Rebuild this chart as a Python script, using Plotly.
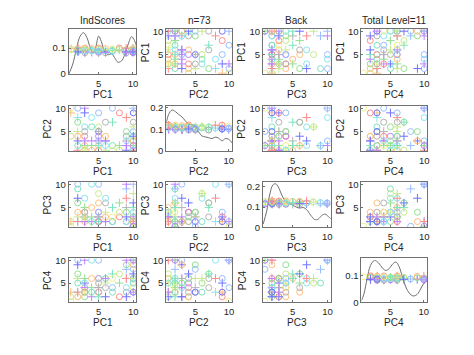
import plotly.graph_objects as go
from plotly.subplots import make_subplots

var_names = ["PC1", "PC2", "PC3", "PC4"]
col_titles = ["IndScores", "n=73", "Back", "Total Level=11"]

pc1 = [1,1,1,2,2,2,2,2,2,2,2,3,3,3,3,3,3,3,3,3,3,4,4,4,4,4,5,5,5,5,5,5,5,5,5,5,
       6,6,6,6,6,6,7,7,7,7,8,8,8,9,9,9,9,9,9,9,9,10,10,10,10,10,10,10,10,10,10,10,10,10,10,10,10]
pc2 = [10,9,4,10,8,7,5,4,1,2,3,10,9,4,2,1,2,3,1,6,5,3,2,1,6,8,5,4,3,1,6,2,5,9,2,3,
       7,4,3,1,2,3,10,7,2,1,9,1,2,4,3,2,3,1,5,8,2,9,4,3,2,1,2,1,5,7,1,2,6,3,10,4,2]
pc3 = [1,2,2,10,2,6,3,4,2,9,7,2,3,4,2,3,5,2,3,7,4,2,3,5,2,10,2,4,3,2,8,6,3,4,2,10,
       6,3,2,4,7,2,2,5,2,3,3,4,6,2,5,9,2,3,4,7,10,2,3,2,4,3,5,2,1,3,4,1,8,2,10,6,1]
pc4 = [1,3,2,10,3,7,6,2,3,5,9,10,5,4,3,2,6,4,3,5,3,2,4,6,3,10,3,5,4,6,5,3,4,6,2,10,
       4,6,2,5,6,6,4,7,3,6,2,7,5,3,6,8,4,2,9,6,10,3,6,5,4,3,6,10,8,6,5,10,6,9,10,7,10]
level = [2,1,3,7,6,4,3,1,0,5,8,9,8,0,1,4,4,9,2,6,10,9,4,1,5,6,8,9,9,0,3,1,10,7,5,7,
         10,1,8,3,6,9,7,5,5,2,0,3,4,10,10,7,6,8,4,0,9,8,5,4,2,9,5,0,7,10,6,4,3,1,7,8,9]
mark = [0,1,0,0,1,0,1,0,1,0,1,1,1,0,0,0,1,1,1,0,0,1,1,0,0,0,0,0,1,0,0,0,1,0,1,0,
        0,0,1,1,0,1,0,1,0,0,0,0,1,0,1,1,0,1,0,1,1,0,0,0,0,1,1,1,0,0,0,1,1,0,1,1,0]

# density curves
kde_x = [
    [0.65, 1.2, 1.8, 2.3, 2.8, 3.3, 3.8, 4.2, 4.6, 5.0, 5.4, 5.9, 6.4, 6.9, 7.4, 7.8, 8.3, 8.8, 9.3, 9.8, 10.2, 10.6],
    [0.65, 1.0, 1.5, 2.0, 2.5, 3.0, 3.5, 4.0, 4.5, 5.0, 5.5, 6.0, 6.5, 7.0, 7.5, 8.0, 8.5, 9.0, 9.5, 10.0, 10.6],
    [0.7, 1.2, 1.7, 2.1, 2.5, 2.9, 3.4, 4.0, 4.5, 5.0, 5.5, 6.0, 6.5, 7.0, 7.6, 8.2, 8.7, 9.2, 9.7, 10.2, 10.6],
    [0.65, 1.0, 1.5, 2.0, 2.6, 3.2, 3.8, 4.3, 4.8, 5.3, 5.8, 6.3, 6.8, 7.3, 7.8, 8.4, 9.0, 9.5, 10.0, 10.6],
]
kde_y = [
    [0.0, 0.035, 0.10, 0.145, 0.159, 0.140, 0.100, 0.082, 0.105, 0.146, 0.125, 0.085, 0.075, 0.078, 0.060, 0.046, 0.050, 0.075, 0.115, 0.144, 0.130, 0.100],
    [0.130, 0.170, 0.190, 0.183, 0.170, 0.158, 0.140, 0.125, 0.122, 0.115, 0.090, 0.070, 0.066, 0.062, 0.058, 0.065, 0.060, 0.048, 0.058, 0.055, 0.035],
    [0.016, 0.080, 0.170, 0.210, 0.216, 0.200, 0.160, 0.125, 0.118, 0.110, 0.100, 0.095, 0.098, 0.088, 0.060, 0.038, 0.040, 0.058, 0.065, 0.052, 0.040],
    [0.006, 0.030, 0.090, 0.140, 0.159, 0.150, 0.130, 0.121, 0.128, 0.145, 0.153, 0.135, 0.095, 0.058, 0.035, 0.024, 0.030, 0.050, 0.072, 0.084],
]
diag_ymax = [0.172, 0.207, 0.223, 0.167]
diag_ticks = [[0, 0.1], [0, 0.1, 0.2], [0, 0.1, 0.2], [0, 0.1]]
diag_top = [0.100, 0.120, 0.130, 0.100]
diag_step = [0.0018, 0.0022, 0.0016, 0.0016]

palette = ["#ff7a7a", "#ffb468", "#ecec70", "#bce878", "#80dc80", "#66e0b4",
           "#74e0f0", "#86b4ff", "#5a5aff", "#b46cff", "#a8a8a8"]
symbols = ["circle-open", "cross-thin-open"]

W, H = 474, 355
col_px = [(69, 137), (167, 233), (264, 332), (363, 429)]
row_px = [(26, 72), (105, 151), (183, 229), (261, 306)]

fig = make_subplots(rows=4, cols=4)
font = "Liberation Sans, Arial, sans-serif"
txtc = "#262626"
colors = [palette[c] for c in level]
syms = [symbols[m] for m in mark]
pcs = [pc1, pc2, pc3, pc4]

for i in range(4):
    for j in range(4):
        r, c = i + 1, j + 1
        if i == j:
            fig.add_trace(go.Scatter(x=kde_x[i], y=kde_y[i], mode="lines",
                                     line=dict(color="#6e6e6e", width=1, shape="spline"),
                                     hoverinfo="skip", showlegend=False), row=r, col=c)
            ys = [diag_top[i] - diag_step[i] * g for g in level]
            fig.add_trace(go.Scatter(x=pcs[i], y=ys, mode="markers", opacity=0.85,
                                     marker=dict(symbol=syms, color=colors, size=6, line=dict(width=1)),
                                     showlegend=False), row=r, col=c)
        else:
            fig.add_trace(go.Scatter(x=pcs[j], y=pcs[i], mode="markers", opacity=0.85,
                                     marker=dict(symbol=syms, color=colors, size=6, line=dict(width=1)),
                                     showlegend=False), row=r, col=c)

        idx = i * 4 + j + 1
        xa = "xaxis" if idx == 1 else f"xaxis{idx}"
        ya = "yaxis" if idx == 1 else f"yaxis{idx}"
        x0, x1 = col_px[j]
        y0, y1 = row_px[i]
        axcommon = dict(showline=True, mirror=True, linecolor="#707070", linewidth=1,
                        ticks="inside", ticklen=2, tickcolor="#707070", showgrid=False,
                        zeroline=False, tickfont=dict(family=font, size=9.5, color=txtc))
        fig.layout[xa].update(domain=[x0 / W, x1 / W], range=[0.65, 10.5] if i == j else [0.7, 10.45],
                              tickvals=[5, 10], **axcommon)
        if i == j:
            fig.layout[ya].update(domain=[1 - y1 / H, 1 - y0 / H], range=[0, diag_ymax[i]],
                                  tickvals=diag_ticks[i], ticktext=[("%g" % t) for t in diag_ticks[i]],
                                  **axcommon)
        else:
            fig.layout[ya].update(domain=[1 - y1 / H, 1 - y0 / H], range=[0.8, 10.4],
                                  tickvals=[5, 10], **axcommon)
            fig.add_annotation(text=var_names[i], x=(x0 - 21) / W, y=1 - (y0 + y1) / 2 / H,
                               xref="paper", yref="paper", showarrow=False, textangle=-90,
                               font=dict(family=font, size=10, color=txtc),
                               xanchor="center", yanchor="middle")
        fig.add_annotation(text=var_names[j], x=(x0 + x1) / 2 / W, y=1 - (y1 + 20.5) / H,
                           xref="paper", yref="paper", showarrow=False,
                           font=dict(family=font, size=10, color=txtc),
                           xanchor="center", yanchor="middle")

for j in range(4):
    x0, x1 = col_px[j]
    fig.add_annotation(text=col_titles[j], x=(x0 + x1) / 2 / W, y=1 - 17 / H, xref="paper", yref="paper",
                       showarrow=False, font=dict(family=font, size=10, color=txtc),
                       xanchor="center", yanchor="middle")

fig.update_layout(width=W, height=H, margin=dict(l=0, r=0, t=0, b=0),
                  paper_bgcolor="white", plot_bgcolor="white", showlegend=False)
fig.write_html("out.html", config={"displayModeBar": False},
               post_script="document.body.style.margin='0';")
